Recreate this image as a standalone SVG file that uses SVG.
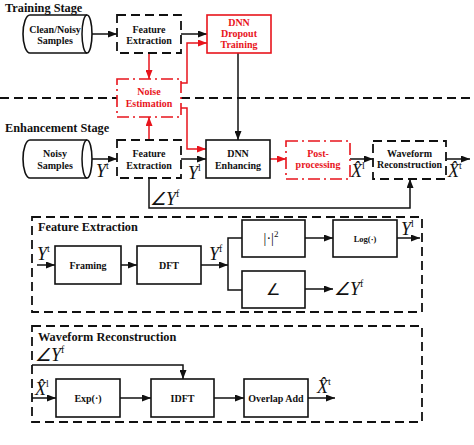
<svg xmlns="http://www.w3.org/2000/svg" width="474" height="445" viewBox="0 0 474 445">
<style>
.t{font-family:"Liberation Serif",serif;font-weight:bold;font-size:10px;text-anchor:middle;fill:#111}
.tr{font-family:"Liberation Serif",serif;font-weight:bold;font-size:10px;text-anchor:middle;fill:#e8141c}
.ttl{font-family:"Liberation Serif",serif;font-weight:bold;font-size:12.3px;fill:#111}
.m{font-family:"Liberation Serif",serif;font-style:italic;font-size:18px;fill:#111}
.sup{font-style:normal;font-size:10px}
.box{fill:#fff;stroke:#111;stroke-width:1.6}
.dbox{fill:#fff;stroke:#111;stroke-width:1.8;stroke-dasharray:9 5}
.sec{fill:none;stroke:#111;stroke-width:1.8;stroke-dasharray:9 5}
.rbox{fill:#fff;stroke:#e8141c;stroke-width:1.6}
.rdbox{fill:#fff;stroke:#e8141c;stroke-width:1.6;stroke-dasharray:12 4 2 4}
.ln{fill:none;stroke:#111;stroke-width:1.5}
.rln{fill:none;stroke:#e8141c;stroke-width:1.5}
.a{marker-end:url(#ab)}
.ra{marker-end:url(#ar)}
</style>
<defs>
<marker id="ab" markerUnits="userSpaceOnUse" markerWidth="9" markerHeight="7" refX="9" refY="3.5" orient="auto"><path d="M0,0 L9,3.5 L0,7 Z" fill="#111"/></marker>
<marker id="ar" markerUnits="userSpaceOnUse" markerWidth="9" markerHeight="7" refX="9" refY="3.5" orient="auto"><path d="M0,0 L9,3.5 L0,7 Z" fill="#e8141c"/></marker>
</defs>
<rect width="474" height="445" fill="#fff"/>

<g id="titles">
<text class="ttl" x="5" y="12">Training Stage</text>
<text class="ttl" x="5" y="132">Enhancement Stage</text>
</g>

<g id="separator">
<path d="M0,98 H117 M181,98 H474" fill="none" stroke="#111" stroke-width="2" stroke-dasharray="9 5"/>
</g>

<g id="feature-extraction-section">
<rect class="sec" x="32" y="217" width="390" height="95"/>
<text class="ttl" x="38" y="231">Feature Extraction</text>
<text class="m" x="37" y="260">Y<tspan class="sup" dy="-8">t</tspan></text>
<text class="m" x="209" y="260">Y<tspan class="sup" dy="-8">f</tspan></text>
<text class="m" x="401" y="235">Y<tspan class="sup" dy="-8">l</tspan></text>
<text class="m" x="334" y="295">∠Y<tspan class="sup" dy="-8">f</tspan></text>
</g>

<g id="waveform-section">
<rect class="sec" x="32" y="326" width="390" height="96"/>
<text class="ttl" x="38" y="341">Waveform Reconstruction</text>
<text class="m" x="35" y="361">∠Y<tspan class="sup" dy="-8">f</tspan></text>
<text class="m" x="35" y="395">X&#x302;<tspan class="sup" dy="-8">l</tspan></text>
<text class="m" x="317" y="393">X&#x302;<tspan class="sup" dy="-8">t</tspan></text>
</g>

<g id="connectors">
<path class="ln a" d="M92,34 H117"/>
<path class="ln a" d="M181,34 H207"/>
<path class="rln ra" d="M149,53 V79"/>
<path class="rln ra" d="M181,83 H187 V43 H207"/>
<path class="rln ra" d="M181,108 H187 V149 H206"/>
<path class="rln ra" d="M149,140 V117"/>
<path class="ln a" d="M238,53 V140"/>
<path class="ln a" d="M92,159 H117"/>
<path class="ln a" d="M181,159 H206"/>
<path class="rln ra" d="M270,159 H286"/>
<path class="ln a" d="M350,159 H373"/>
<path class="ln a" d="M446,159 H470"/>
<path class="ln a" d="M149,178 V208 H410 V179"/>
<path class="ln a" d="M37,265 H55"/>
<path class="ln a" d="M121,265 H137"/>
<path class="ln a" d="M201,265 H228"/>
<path class="ln" d="M242,238 H228 V290 H242"/>
<path class="ln a" d="M305,238 H333"/>
<path class="ln a" d="M397,238 H420"/>
<path class="ln a" d="M305,289 H333"/>
<path class="ln a" d="M32,365 H183 V379"/>
<path class="ln a" d="M32,398 H56"/>
<path class="ln a" d="M120,398 H151"/>
<path class="ln a" d="M214,398 H244"/>
<path class="ln a" d="M308,398 H335"/>
</g>

<g id="clean-noisy-samples">
<path class="box" d="M30,15 H87 A5,19 0 0 1 87,53 H30 A7,19 0 0 1 30,15 Z"/>
<path class="ln" d="M87,15 A5,19 0 0 0 87,53"/>
<text class="t" x="55" y="32.5">Clean/Noisy</text>
<text class="t" x="55" y="43.5">Samples</text>
</g>

<g id="fe-train">
<rect class="dbox" x="117" y="15" width="64" height="38"/>
<text class="t" x="149" y="32.5">Feature</text>
<text class="t" x="149" y="43.5">Extraction</text>
</g>

<g id="dnn-dropout">
<rect class="rbox" x="207" y="15" width="64" height="38"/>
<text class="tr" x="239" y="26">DNN</text>
<text class="tr" x="239" y="37">Dropout</text>
<text class="tr" x="239" y="48">Training</text>
</g>

<g id="noise-estimation">
<rect class="rdbox" x="117" y="79" width="64" height="38"/>
<text class="tr" x="149" y="95">Noise</text>
<text class="tr" x="149" y="106.5">Estimation</text>
</g>

<g id="noisy-samples">
<path class="box" d="M30,140 H87 A5,19 0 0 1 87,178 H30 A7,19 0 0 1 30,140 Z"/>
<path class="ln" d="M87,140 A5,19 0 0 0 87,178"/>
<text class="t" x="55" y="157">Noisy</text>
<text class="t" x="55" y="168.5">Samples</text>
</g>

<g id="fe-enh">
<rect class="dbox" x="117" y="140" width="64" height="38"/>
<text class="t" x="149" y="157">Feature</text>
<text class="t" x="149" y="168.5">Extraction</text>
</g>

<g id="dnn-enh">
<rect class="box" x="206" y="140" width="64" height="38"/>
<text class="t" x="238" y="157">DNN</text>
<text class="t" x="238" y="168.5">Enhancing</text>
</g>

<g id="post-processing">
<rect class="rdbox" x="286" y="141" width="64" height="38"/>
<text class="tr" x="318" y="156.5">Post-</text>
<text class="tr" x="318" y="168">processing</text>
</g>

<g id="waveform-rec">
<rect class="dbox" x="373" y="141" width="73" height="38"/>
<text class="t" x="409.5" y="156.5">Waveform</text>
<text class="t" x="409.5" y="168">Reconstruction</text>
</g>

<g id="enh-labels">
<text class="m" x="96" y="177">Y<tspan class="sup" dy="-8">t</tspan></text>
<text class="m" x="188" y="179">Y<tspan class="sup" dy="-8">l</tspan></text>
<text class="m" x="150" y="205">∠Y<tspan class="sup" dy="-8">f</tspan></text>
<text class="m" x="351" y="177">X&#x302;<tspan class="sup" dy="-8">l</tspan></text>
<text class="m" x="448" y="177">X&#x302;<tspan class="sup" dy="-8">t</tspan></text>
</g>

<g id="framing">
<rect class="box" x="55" y="246" width="66" height="38"/>
<text class="t" x="88" y="268.5">Framing</text>
</g>
<g id="dft">
<rect class="box" x="137" y="246" width="64" height="38"/>
<text class="t" x="169" y="268.5">DFT</text>
</g>
<g id="abs-sq">
<rect class="box" x="242" y="220" width="63" height="37"/>
<text x="271" y="243" font-family="Liberation Serif, serif" font-size="14" text-anchor="middle" fill="#111">|·|<tspan font-size="9" dy="-6">2</tspan></text>
</g>
<g id="log">
<rect class="box" x="333" y="220" width="64" height="37"/>
<text class="t" x="365" y="241.5" style="font-size:8.5px">Log(·)</text>
</g>
<g id="angle">
<rect class="box" x="242" y="271" width="63" height="37"/>
<text x="273" y="295" font-family="Liberation Serif, serif" font-size="16" text-anchor="middle" fill="#111">∠</text>
</g>

<g id="exp">
<rect class="box" x="56" y="379" width="64" height="38"/>
<text class="t" x="88" y="401.5">Exp(·)</text>
</g>
<g id="idft">
<rect class="box" x="151" y="379" width="63" height="38"/>
<text class="t" x="182.5" y="401.5">IDFT</text>
</g>
<g id="overlap-add">
<rect class="box" x="244" y="379" width="64" height="38"/>
<text class="t" x="276" y="401.5">Overlap Add</text>
</g>
</svg>
